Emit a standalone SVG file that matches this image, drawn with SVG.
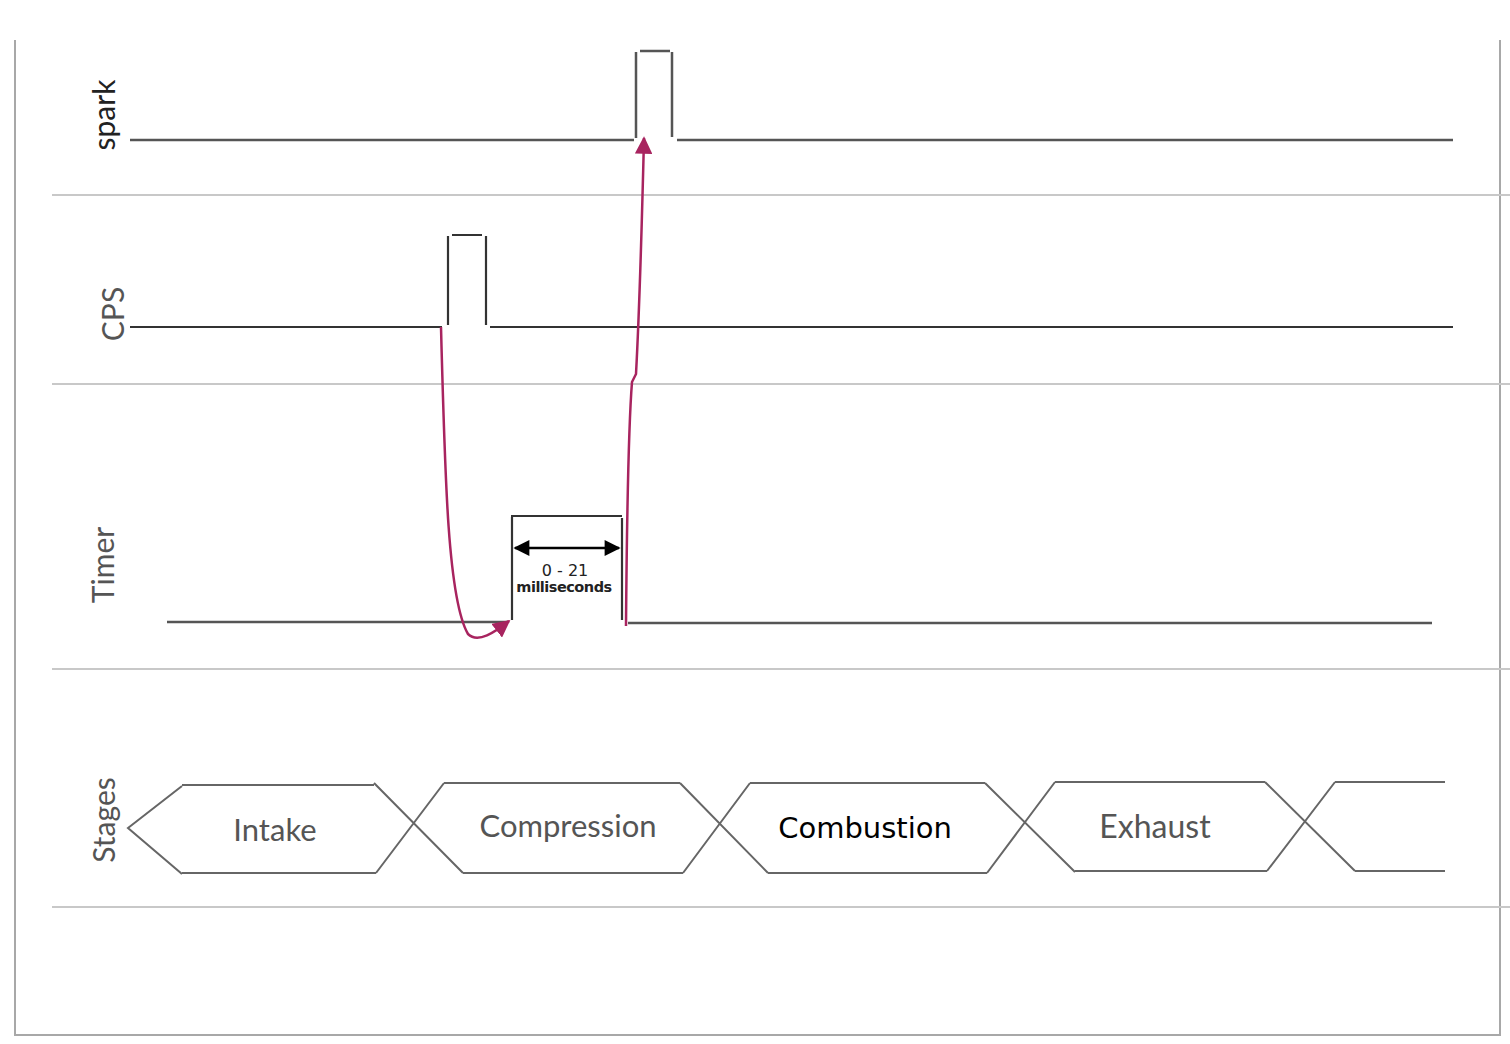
<svg xmlns="http://www.w3.org/2000/svg" width="1510" height="1044" viewBox="0 0 1510 1044">
<defs>
<style>
.frame{fill:none;stroke:#a8a8a8;stroke-width:2}
.sep{fill:none;stroke:#c8c8c8;stroke-width:2}
.sig{fill:none;stroke:#555;stroke-width:2.5}
.sigd{fill:none;stroke:#333;stroke-width:2.2}
.stage{fill:none;stroke:#666;stroke-width:2}
.lbl{font-family:Lato,"Liberation Sans",sans-serif;fill:#555;font-size:30px}
.conn{fill:none;stroke:#a8245f;stroke-width:2.5}
</style>
<marker id="mag" viewBox="0 0 10 10" refX="9" refY="5" markerWidth="7" markerHeight="7" orient="auto" markerUnits="strokeWidth">
<path d="M0,0 L10,5 L0,10 z" fill="#a8245f"/>
</marker>
<marker id="blk" viewBox="0 0 10 10" refX="9" refY="5" markerWidth="18" markerHeight="16" orient="auto-start-reverse" markerUnits="userSpaceOnUse">
<path d="M0,0 L10,5 L0,10 z" fill="#000"/>
</marker>
</defs>
<rect width="1510" height="1044" fill="#fff"/>
<g id="frame">
<path class="frame" d="M15,40 V1035 H1500 V40"/>
<line class="sep" x1="52" y1="195" x2="1510" y2="195"/>
<line class="sep" x1="52" y1="384" x2="1510" y2="384"/>
<line class="sep" x1="52" y1="669" x2="1510" y2="669"/>
<line class="sep" x1="52" y1="907" x2="1510" y2="907"/>
</g>
<g id="spark">
<text class="lbl" style="fill:#222" transform="translate(115,115) rotate(-90)" text-anchor="middle">spark</text>
<path class="sig" d="M130,140 H634"/>
<path class="sig" d="M636,138 V52 M640,51 H670 M672,52 V137"/>
<path class="sig" d="M677,140 H1453"/>
</g>
<g id="cps">
<text class="lbl" transform="translate(124,314) rotate(-90)" text-anchor="middle">CPS</text>
<path class="sigd" d="M130,327 H442"/>
<path class="sigd" d="M448,325 V236 M452,235 H482 M486,236 V325"/>
<path class="sigd" d="M490,327 H1453"/>
</g>
<g id="timer">
<text class="lbl" transform="translate(114,565) rotate(-90)" text-anchor="middle">Timer</text>
<path class="sig" d="M167,622 H508"/>
<path class="sigd" d="M512,620 V517 M511,516 H622 M622,518 V620"/>
<path class="sig" d="M628,623 H1432"/>
<line x1="515" y1="548" x2="619" y2="548" stroke="#000" stroke-width="2.5" marker-start="url(#blk)" marker-end="url(#blk)"/>
<text x="565" y="576" text-anchor="middle" style="font-family:'DejaVu Sans','Liberation Sans',sans-serif;font-size:16px;fill:#222">0 - 21</text>
<text x="564" y="592" text-anchor="middle" style="font-family:'DejaVu Sans','Liberation Sans',sans-serif;font-size:14.5px;fill:#222;font-weight:bold;letter-spacing:-0.5px">milliseconds</text>
</g>
<g id="stages">
<text class="lbl" transform="translate(115,820) rotate(-90)" text-anchor="middle">Stages</text>
<path class="stage" d="M182,786 L128,828 L182,874"/>
<path class="stage" d="M182,785 H374 M182,873 H376"/>
<path class="stage" d="M374,783 L463,873 M376,873 L444,783"/>
<path class="stage" d="M444,783 H680 M463,873 H683"/>
<path class="stage" d="M680,783 L768,873 M683,873 L750,783"/>
<path class="stage" d="M750,783 H985 M768,873 H987"/>
<path class="stage" d="M985,783 L1075,872 M987,873 L1055,782"/>
<path class="stage" d="M1055,782 H1265 M1075,871 H1267"/>
<path class="stage" d="M1265,782 L1355,871 M1267,871 L1335,782"/>
<path class="stage" d="M1335,782 H1445 M1355,871 H1445"/>
</g>
<g id="intake"><text class="lbl" x="275" y="841" text-anchor="middle" style="font-size:31px">Intake</text></g>
<g id="compression"><text class="lbl" x="568" y="837" text-anchor="middle" style="font-size:31px">Compression</text></g>
<g id="combustion"><text x="865" y="838" text-anchor="middle" style="font-family:'DejaVu Sans','Liberation Sans',sans-serif;font-size:29px;fill:#000">Combustion</text></g>
<g id="exhaust"><text class="lbl" x="1155" y="838" text-anchor="middle" style="font-size:32px">Exhaust</text></g>
<g id="connectors">
<path class="conn" d="M441,327 C445,480 448,600 468,634 C478,644 495,632 509,621" marker-end="url(#mag)"/>
<path class="conn" d="M626,626 C627,500 629,420 632,382 L636,374 C640,300 642,220 644,138" marker-end="url(#mag)"/>
</g>
</svg>
